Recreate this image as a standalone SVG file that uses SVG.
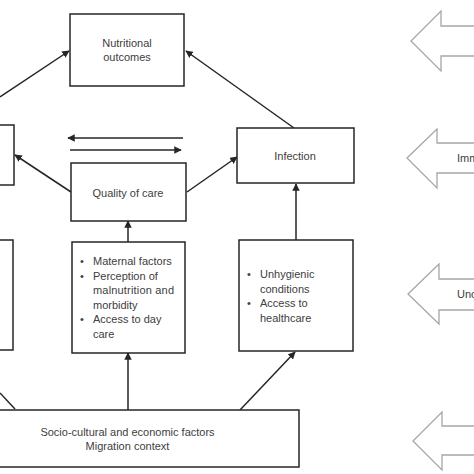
<svg xmlns="http://www.w3.org/2000/svg" width="474" height="474" viewBox="0 0 474 474">
<style>
.box{fill:#fff;stroke:#262626;stroke-width:1.5}
.big{fill:#fff;stroke:#a6a6a6;stroke-width:1.3}
.t{font-family:"Liberation Sans",Arial,sans-serif;font-size:11px;fill:#404040}
.c{text-anchor:middle}
.ln{stroke:#262626;stroke-width:1.5;fill:none}
</style>
<defs>
<marker id="ah" viewBox="0 0 10 10" refX="9" refY="5" markerWidth="5" markerHeight="5" orient="auto" markerUnits="strokeWidth">
<path d="M0,0 L10,5 L0,10 z" fill="#262626"/>
</marker>
</defs>
<rect width="474" height="474" fill="#fff"/>
<g id="connectors">
<line class="ln" x1="0" y1="97" x2="69" y2="51" marker-end="url(#ah)"/>
<line class="ln" x1="294" y1="128" x2="186" y2="51" marker-end="url(#ah)"/>
<line class="ln" x1="183" y1="138" x2="68" y2="138" marker-end="url(#ah)"/>
<line class="ln" x1="70" y1="150" x2="181" y2="150" marker-end="url(#ah)"/>
<line class="ln" x1="71" y1="192" x2="15" y2="155" marker-end="url(#ah)"/>
<line class="ln" x1="187" y1="192" x2="237" y2="157" marker-end="url(#ah)"/>
<line class="ln" x1="128" y1="242" x2="128" y2="221" marker-end="url(#ah)"/>
<line class="ln" x1="296" y1="240" x2="296" y2="184" marker-end="url(#ah)"/>
<line class="ln" x1="128" y1="410" x2="128" y2="353" marker-end="url(#ah)"/>
<line class="ln" x1="240" y1="410" x2="295" y2="352" marker-end="url(#ah)"/>
<line class="ln" x1="15" y1="409" x2="0" y2="393"/>
</g>
<g id="nutritional">
<rect class="box" x="70" y="14" width="114" height="72"/>
<text class="t c" x="127" y="47">Nutritional</text>
<text class="t c" x="127" y="61">outcomes</text>
</g>
<g id="left-box-1">
<rect class="box" x="-10" y="125" width="24" height="60"/>
</g>
<g id="left-box-2">
<rect class="box" x="-10" y="240" width="23" height="110"/>
</g>
<g id="quality">
<rect class="box" x="71" y="163" width="115" height="58"/>
<text class="t c" x="128" y="197">Quality of care</text>
</g>
<g id="infection">
<rect class="box" x="237" y="128" width="117" height="55"/>
<text class="t c" x="295" y="160">Infection</text>
</g>
<g id="maternal">
<rect class="box" x="72" y="242" width="113" height="111"/>
<text class="t" x="80" y="265">•</text><text class="t" x="93" y="265">Maternal factors</text>
<text class="t" x="80" y="279.5">•</text><text class="t" x="93" y="279.5">Perception of</text>
<text class="t" x="93" y="294" textLength="81" lengthAdjust="spacing">malnutrition and</text>
<text class="t" x="93" y="308.5">morbidity</text>
<text class="t" x="80" y="323">•</text><text class="t" x="93" y="323">Access to day</text>
<text class="t" x="93" y="337.5">care</text>
</g>
<g id="unhygienic">
<rect class="box" x="239" y="240" width="114" height="111"/>
<text class="t" x="247" y="278">•</text><text class="t" x="260" y="278">Unhygienic</text>
<text class="t" x="260" y="293">conditions</text>
<text class="t" x="247" y="307">•</text><text class="t" x="260" y="307">Access to</text>
<text class="t" x="260" y="322">healthcare</text>
</g>
<g id="socio">
<rect class="box" x="-10" y="410" width="309" height="57"/>
<text class="t c" x="127.5" y="436">Socio-cultural and economic factors</text>
<text class="t c" x="127.5" y="450">Migration context</text>
</g>
<g id="big-arrow-1">
<polygon class="big" points="411,41 441,11 441,26 480,26 480,56 441,56 441,71"/>
</g>
<g id="big-arrow-2">
<polygon class="big" points="407,158 437,129 437,143 480,143 480,173 437,173 437,188"/>
<text class="t" x="457" y="162">Imm</text>
</g>
<g id="big-arrow-3">
<polygon class="big" points="408,294 439,264 439,279 480,279 480,310 439,310 439,324"/>
<text class="t" x="457" y="298">Unc</text>
</g>
<g id="big-arrow-4">
<polygon class="big" points="413,441 442,412 442,426 480,426 480,455 442,455 442,470"/>
</g>
</svg>
